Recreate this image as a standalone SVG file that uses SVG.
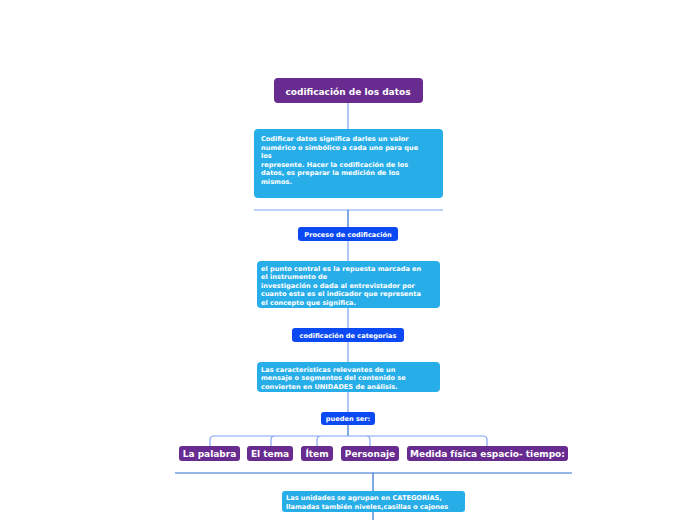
<svg xmlns="http://www.w3.org/2000/svg" width="697" height="520" viewBox="0 0 697 520">
<style>
.p{fill:#682b8f}.c{fill:#27aee9}.b{fill:#0b4af2}
text{font-family:"DejaVu Sans","Liberation Sans",sans-serif;font-weight:bold;fill:#fff}
.t{font-size:9px}.s{font-size:6.6px}.m{font-size:7px}
.l{stroke:#7fa3f5;stroke-width:1.2;fill:none}
.d{stroke:#2b70d4;stroke-width:1.2;fill:none}
</style>
<rect width="697" height="520" fill="#fff"/>
<g id="connectors">
<path class="l" d="M348 103V129M348 241V261M348 308V328M348 342V362M348 392V412"/>
<path class="l" stroke-width="2" d="M254 210H443"/>
<path class="d" d="M348 210V216M348 216V227M348 425V436"/>
<path class="l" d="M210 446V440Q210 436 214 436H483Q487 436 487 440V446M271 446V440Q271 436 275 436M317 446V440Q317 436 321 436M370 446V440Q370 436 366 436"/>
<path class="d" d="M175 473H572M373 473V480M373 480V491M373 512V520"/>
</g>
<g id="n1"><rect class="p" x="274" y="78" width="149" height="25" rx="4"/><text class="t" x="348" y="95" text-anchor="middle">codificación de los datos</text></g>
<g id="n2"><rect class="c" x="254" y="129" width="189" height="69" rx="4"/>
<text class="s"><tspan x="261" y="141">Codificar datos significa darles un valor</tspan><tspan x="261" y="150">numérico o simbólico a cada uno para que</tspan><tspan x="261" y="158">los</tspan><tspan x="261" y="167">represente. Hacer la codificación de los</tspan><tspan x="261" y="175">datos, es preparar la medición de los</tspan><tspan x="261" y="184">mismos.</tspan></text></g>
<g id="n3"><rect class="b" x="298" y="227" width="100" height="14" rx="3"/><text class="s" x="348" y="236.5" text-anchor="middle">Proceso de codificación</text></g>
<g id="n4"><rect class="c" x="257" y="261" width="183" height="47" rx="4"/>
<text class="s"><tspan x="261" y="271">el punto central es la repuesta marcada en</tspan><tspan x="261" y="279">el instrumento de</tspan><tspan x="261" y="288">investigación o dada al entrevistador por</tspan><tspan x="261" y="296">cuanto esta es el indicador que representa</tspan><tspan x="261" y="305">el concepto que significa.</tspan></text></g>
<g id="n5"><rect class="b" x="292" y="328" width="112" height="14" rx="3"/><text class="s" x="348" y="337.5" text-anchor="middle">codificación de categorias</text></g>
<g id="n6"><rect class="c" x="257" y="362" width="183" height="30" rx="4"/>
<text class="s"><tspan x="261" y="372">Las características relevantes de un</tspan><tspan x="261" y="380">mensaje o segmentos del contenido se</tspan><tspan x="261" y="389">convierten en UNIDADES de análisis.</tspan></text></g>
<g id="n7"><rect class="b" x="321" y="412" width="54" height="13" rx="3"/><text class="s" x="348" y="421" text-anchor="middle">pueden ser:</text></g>
<g id="n8"><rect class="p" x="179" y="446" width="61" height="15" rx="3"/><text class="t" x="209.5" y="457" text-anchor="middle">La palabra</text></g>
<g id="n9"><rect class="p" x="247" y="446" width="46" height="15" rx="3"/><text class="t" x="270" y="457" text-anchor="middle">El tema</text></g>
<g id="n10"><rect class="p" x="301" y="446" width="32" height="15" rx="3"/><text class="t" x="317" y="457" text-anchor="middle">Ítem</text></g>
<g id="n11"><rect class="p" x="341" y="446" width="58" height="15" rx="3"/><text class="t" x="370" y="457" text-anchor="middle">Personaje</text></g>
<g id="n12"><rect class="p" x="407" y="446" width="161" height="15" rx="3"/><text class="t" x="487.5" y="457" text-anchor="middle">Medida física espacio- tiempo:</text></g>
<g id="n13"><rect class="c" x="282" y="491" width="183" height="21" rx="3"/>
<text class="s"><tspan x="286" y="500">Las unidades se agrupan en CATEGORÍAS,</tspan><tspan x="286" y="509">llamadas también niveles,casillas o cajones</tspan></text></g>
</svg>
